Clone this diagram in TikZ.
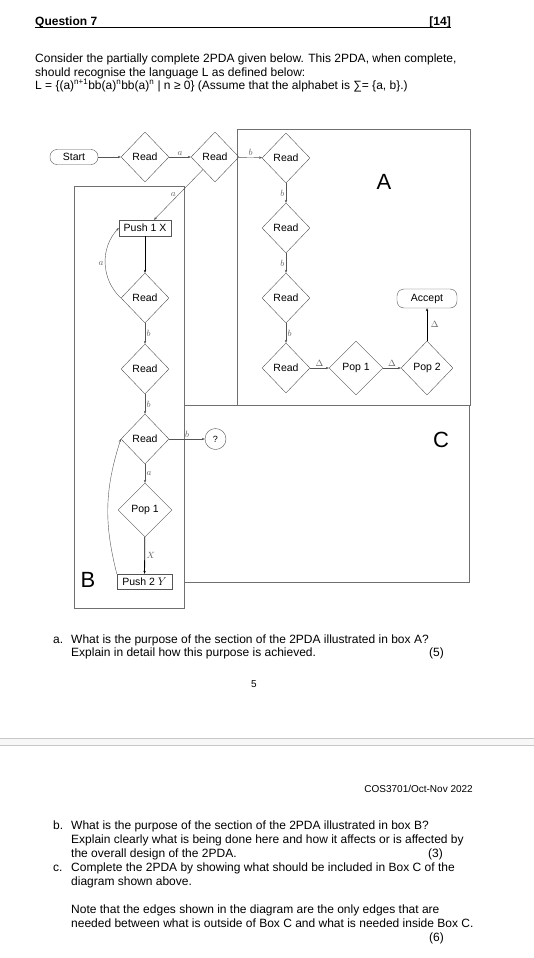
\documentclass[tikz,border=0pt]{standalone}
\usepackage{fontspec}
\setmainfont{Liberation Sans}
\usepackage{amsmath}
\usepackage{amssymb}
\usepackage{tikz}
\usetikzlibrary{shapes.geometric,arrows.meta,positioning}

\definecolor{edgegray}{HTML}{555555}
\definecolor{boxgray}{HTML}{707070}
\definecolor{lblgray}{HTML}{606060}

\tikzset{
  decision/.style={diamond, draw=edgegray, minimum width=48pt, minimum height=50pt, inner sep=0pt, font=\fontsize{10.5}{12}\selectfont},
  popdec/.style={decision, minimum width=54pt, minimum height=54pt},
  process/.style={rectangle, draw=edgegray, minimum width=52pt, minimum height=16pt, inner sep=1pt, font=\fontsize{10.5}{12}\selectfont},
  terminal/.style={rectangle, rounded corners=7pt, draw=edgegray, minimum width=48pt, minimum height=15pt, inner sep=1pt, font=\fontsize{10.5}{12}\selectfont},
  qcircle/.style={circle, draw=edgegray, minimum size=21pt, inner sep=0pt, font=\fontsize{9}{10}\selectfont},
  flow/.style={draw=edgegray, line width=0.4pt, -{Stealth[length=3pt,width=2.4pt]}},
  thickflow/.style={flow, draw=black, line width=0.8pt},
  edgelbl/.style={text=lblgray, font=\small, inner sep=1.5pt},
  boxline/.style={draw=boxgray, line width=0.6pt},
  boxname/.style={font=\fontsize{22}{24}\selectfont},
  qtext/.style={anchor=base west, inner sep=0pt, font=\fontsize{12}{13}\selectfont},
  qmark/.style={anchor=base east, inner sep=0pt, font=\fontsize{12}{13}\selectfont},
}

\begin{document}
\begin{tikzpicture}[x=1pt,y=1pt,yscale=-1]
\useasboundingbox[fill=white] (0,0) rectangle (534,958);

%Heading
\node[qtext, font=\fontsize{12}{13}\selectfont\bfseries] (qhead) at (35,26) {Question 7};
\node[qmark, font=\fontsize{12}{13}\selectfont\bfseries] (qmarks) at (451,26) {[14]};
\draw[line width=0.9pt] (35,27.6) -- (451,27.6);

%Question text
\node[qtext] (intro1) at (35,63) {Consider the partially complete 2PDA given below. This 2PDA, when complete,};
\node[qtext] (intro2) at (35,76) {should recognise the language L as defined below:};
\node[qtext] (intro3) at (35,89) {L = \{(a)\textsuperscript{n+1}bb(a)\textsuperscript{n}bb(a)\textsuperscript{n} | n ≥ 0\} (Assume that the alphabet is ∑= \{a, b\}.)};

%Boxes A, B, C
\draw[boxline] (237,129) rectangle (470,405);
\draw[boxline] (74,186) rectangle (184,608);
\draw[boxline] (184,405) rectangle (469,582);
\node[boxname] (nameA) at (384,182) {A};
\node[boxname] (nameB) at (88,580) {B};
\node[boxname] (nameC) at (441,440) {C};

%Flowchart: Terminal
\node[terminal] (start) at (74,157) {Start};
%Flowchart: Decision
\node[decision] (read1) at (145,157) {Read};
\node[decision] (read2) at (215,157) {Read};
%Box B
\node[process] (push1x) at (145,228) {Push 1 X};
\node[decision] (read3) at (145,298) {Read};
\node[decision] (read4) at (145,369) {Read};
\node[decision] (read5) at (145,439) {Read};
\node[popdec] (pop1b) at (145,510) {Pop 1};
\node[process, minimum width=55pt, minimum height=15pt] (push2y) at (144.5,581.5) {Push 2 $Y$};
\node[qcircle] (quest) at (215.5,439) {?};
%Box A
\node[decision] (reada1) at (286,158) {Read};
\node[decision] (reada2) at (286,228) {Read};
\node[decision] (reada3) at (286,298) {Read};
\node[decision] (reada4) at (286,368) {Read};
\node[popdec] (pop1a) at (356,368) {Pop 1};
\node[popdec, minimum width=52pt] (pop2) at (427,368) {Pop 2};
\node[terminal, minimum width=60pt, minimum height=19pt] (accept) at (427,298.5) {Accept};

%Connectors
\draw[flow] (start) -- (read1);
\draw[flow] (read1) -- node[edgelbl, above] {$a$} (read2);
\draw[flow] (read2) -- node[edgelbl, above] {$b$} (reada1);
\draw[flow] (read2.south west) -- node[edgelbl, left=1pt] {$a$} ([xshift=9pt]push1x.north);
\draw[thickflow] (push1x) -- (read3);
\draw[flow] (read3.west) to[bend right=45] node[edgelbl, left] {$a$} (push1x.west);
\draw[flow] (read3) -- node[edgelbl, right] {$b$} (read4);
\draw[flow] (read4) -- node[edgelbl, right] {$b$} (read5);
\draw[flow] (read5) -- node[edgelbl, right] {$a$} (pop1b);
\draw[thickflow] (pop1b) -- node[edgelbl, right] {$X$} (push2y);
\draw[flow] (push2y.north west) to[bend right=16] (read5.west);
\draw[flow] (read5) -- node[edgelbl, above] {$b$} (quest);
\draw[flow] (reada1) -- node[edgelbl, left] {$b$} (reada2);
\draw[flow] (reada2) -- node[edgelbl, left] {$b$} (reada3);
\draw[flow] (reada3) -- node[edgelbl, right] {$b$} (reada4);
\draw[flow] (reada4) -- node[edgelbl, above] {$\Delta$} (pop1a);
\draw[flow] (pop1a) -- node[edgelbl, above] {$\Delta$} (pop2);
\draw[thickflow] (pop2) -- node[edgelbl, right=2pt] {$\Delta$} (accept);

%Part a
\node[qtext] (parta) at (53,643) {a.};
\node[qtext] (parta1) at (71,643) {What is the purpose of the section of the 2PDA illustrated in box A?};
\node[qtext] (parta2) at (71,656) {Explain in detail how this purpose is achieved.};
\node[qmark] (marka) at (444,656) {(5)};
\node[anchor=base, inner sep=0pt, font=\fontsize{10}{12}\selectfont] (pageno) at (254,687) {5};

%Page break
\fill[black!3] (0,738.5) rectangle (534,745.5);
\draw[black!22, line width=0.8pt] (0,738.5) -- (534,738.5);
\draw[black!22, line width=0.8pt] (0,745.5) -- (534,745.5);
\node[anchor=base east, inner sep=0pt, font=\fontsize{10}{12}\selectfont] (footer) at (473,792) {COS3701/Oct-Nov 2022};

%Part b
\node[qtext] (partb) at (53,829) {b.};
\node[qtext] (partb1) at (71,829) {What is the purpose of the section of the 2PDA illustrated in box B?};
\node[qtext] (partb2) at (71,843) {Explain clearly what is being done here and how it affects or is affected by};
\node[qtext] (partb3) at (71,857) {the overall design of the 2PDA.};
\node[qmark] (markb) at (443,857) {(3)};
%Part c
\node[qtext] (partc) at (53,871) {c.};
\node[qtext] (partc1) at (71,871) {Complete the 2PDA by showing what should be included in Box C of the};
\node[qtext] (partc2) at (71,885) {diagram shown above.};
\node[qtext] (partc3) at (71,913) {Note that the edges shown in the diagram are the only edges that are};
\node[qtext] (partc4) at (71,927) {needed between what is outside of Box C and what is needed inside Box C.};
\node[qmark] (markc) at (444,941) {(6)};
\end{tikzpicture}
\end{document}
